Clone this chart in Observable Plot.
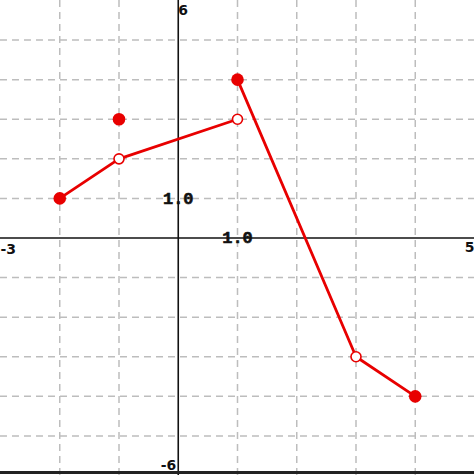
<!DOCTYPE html>
<html>
<head>
<meta charset="utf-8">
<script src="https://cdn.jsdelivr.net/npm/d3@7"></script>
<script src="https://cdn.jsdelivr.net/npm/@observablehq/plot@0.6"></script>
<style>
  html, body { margin: 0; padding: 0; background: white; overflow: hidden; }
  #chart svg { display: block; overflow: visible; }
</style>
</head>
<body>
<div id="chart"></div>
<script>
// Piecewise line segments
const lineX = [-2, -1, 1, 1, 3, 4];
const lineY = [1, 2, 3, 4, -3, -4];
const linePiece = ["a", "a", "a", "b", "b", "b"];
// Filled (closed) endpoints
const filledX = [-2, -1, 1, 4];
const filledY = [1, 3, 4, -4];
// Open endpoints
const openX = [-1, 1, 3];
const openY = [2, 3, -3];
// Grid lines
const gridX = [-2, -1, 1, 2, 3, 4];
const gridY = [-5, -4, -3, -2, -1, 1, 2, 3, 4, 5];
// Tick labels
const unitLabel = "1.0";
const xMinLabel = "-3", xMaxLabel = "5", yMaxLabel = "6", yMinLabel = "-6";

const lineData = lineX.map((x, i) => ({x, y: lineY[i], piece: linePiece[i]}));
const filled = filledX.map((x, i) => ({x, y: filledY[i]}));
const open = openX.map((x, i) => ({x, y: openY[i]}));

const red = "#e80000";
const boldSans = "DejaVu Sans, Verdana, sans-serif";
const mono = "Liberation Mono, Courier New, monospace";

const chart = Plot.plot({
  width: 474,
  height: 475,
  margin: 0,
  x: {domain: [-3, 5], axis: null},
  y: {domain: [-6, 6], axis: null},
  style: {background: "white"},
  marks: [
    Plot.ruleX(gridX, {stroke: "#bdbdbd", strokeWidth: 1.5, strokeDasharray: "7,5"}),
    Plot.ruleY(gridY, {stroke: "#bdbdbd", strokeWidth: 1.5, strokeDasharray: "7,5"}),
    Plot.ruleX([0], {stroke: "#111", strokeWidth: 1.6}),
    Plot.ruleY([0], {stroke: "#111", strokeWidth: 1.6}),
    Plot.ruleY([-6], {stroke: "#222", strokeWidth: 3, dy: -3}),
    Plot.text([unitLabel], {x: 0, y: 1, text: d => d, fontFamily: mono, fontWeight: 700, fontSize: 17, fill: "#111", stroke: "#111", strokeWidth: 0.6, textAnchor: "middle"}),
    Plot.text([unitLabel], {x: 1, y: 0, text: d => d, fontFamily: mono, fontWeight: 700, fontSize: 17, fill: "#111", stroke: "#111", strokeWidth: 0.6, textAnchor: "middle"}),
    Plot.text([xMinLabel], {x: -3, y: 0, text: d => d, fontFamily: boldSans, fontWeight: 700, fontSize: 14, fill: "#111", textAnchor: "start", dy: 12}),
    Plot.text([xMaxLabel], {x: 5, y: 0, text: d => d, fontFamily: boldSans, fontWeight: 700, fontSize: 14, fill: "#111", textAnchor: "end", dy: 10}),
    Plot.text([yMaxLabel], {x: 0, y: 6, text: d => d, fontFamily: boldSans, fontWeight: 700, fontSize: 14, fill: "#111", textAnchor: "start", dx: 0, dy: 10}),
    Plot.text([yMinLabel], {x: 0, y: -6, text: d => d, fontFamily: boldSans, fontWeight: 700, fontSize: 14, fill: "#111", textAnchor: "end", dx: -2, dy: -10}),
    Plot.line(lineData, {x: "x", y: "y", z: "piece", stroke: red, strokeWidth: 2.8}),
    Plot.dot(filled, {x: "x", y: "y", r: 6.3, fill: red, stroke: "none"}),
    Plot.dot(open, {x: "x", y: "y", r: 5, fill: "white", stroke: red, strokeWidth: 1.6})
  ]
});
document.getElementById("chart").appendChild(chart);
</script>
</body>
</html>
